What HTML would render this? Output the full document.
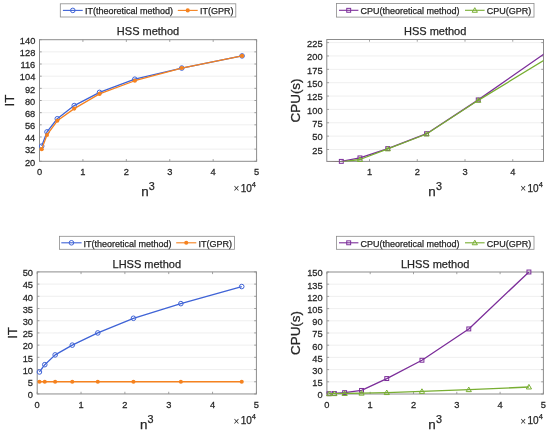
<!DOCTYPE html>
<html><head><meta charset="utf-8"><title>Figure</title>
<style>
html,body{margin:0;padding:0;background:#fff;width:550px;height:433px;overflow:hidden}
svg{display:block;filter:blur(0.3px)}
text{font-family:'Liberation Sans', Arial, Helvetica, sans-serif;fill:#262626;stroke:#262626;stroke-width:0.25px}
</style></head><body>
<svg width="550" height="433" viewBox="0 0 550 433">
<rect width="550" height="433" fill="#fff"/>
<defs>
<clipPath id="cTL"><rect x="39.5" y="39.7" width="217.1" height="121.6"/></clipPath>
<clipPath id="cTR"><rect x="326.8" y="39.5" width="216.7" height="121.9"/></clipPath>
<clipPath id="cBL"><rect x="37.2" y="271.9" width="219.2" height="122.05"/></clipPath>
<clipPath id="cBR"><rect x="326.9" y="272" width="216.5" height="122"/></clipPath>
</defs>
<line x1="39.5" y1="149.14" x2="256.6" y2="149.14" stroke="#ebebeb" stroke-width="0.8"/>
<line x1="39.5" y1="136.98" x2="256.6" y2="136.98" stroke="#ebebeb" stroke-width="0.8"/>
<line x1="39.5" y1="124.82" x2="256.6" y2="124.82" stroke="#ebebeb" stroke-width="0.8"/>
<line x1="39.5" y1="112.66" x2="256.6" y2="112.66" stroke="#ebebeb" stroke-width="0.8"/>
<line x1="39.5" y1="100.5" x2="256.6" y2="100.5" stroke="#ebebeb" stroke-width="0.8"/>
<line x1="39.5" y1="88.34" x2="256.6" y2="88.34" stroke="#ebebeb" stroke-width="0.8"/>
<line x1="39.5" y1="76.18" x2="256.6" y2="76.18" stroke="#ebebeb" stroke-width="0.8"/>
<line x1="39.5" y1="64.02" x2="256.6" y2="64.02" stroke="#ebebeb" stroke-width="0.8"/>
<line x1="39.5" y1="51.86" x2="256.6" y2="51.86" stroke="#ebebeb" stroke-width="0.8"/>
<line x1="39.5" y1="161.3" x2="39.5" y2="159.1" stroke="#8c8c8c" stroke-width="0.8"/>
<line x1="39.5" y1="39.7" x2="39.5" y2="41.9" stroke="#8c8c8c" stroke-width="0.8"/>
<line x1="82.92" y1="161.3" x2="82.92" y2="159.1" stroke="#8c8c8c" stroke-width="0.8"/>
<line x1="82.92" y1="39.7" x2="82.92" y2="41.9" stroke="#8c8c8c" stroke-width="0.8"/>
<line x1="126.34" y1="161.3" x2="126.34" y2="159.1" stroke="#8c8c8c" stroke-width="0.8"/>
<line x1="126.34" y1="39.7" x2="126.34" y2="41.9" stroke="#8c8c8c" stroke-width="0.8"/>
<line x1="169.76" y1="161.3" x2="169.76" y2="159.1" stroke="#8c8c8c" stroke-width="0.8"/>
<line x1="169.76" y1="39.7" x2="169.76" y2="41.9" stroke="#8c8c8c" stroke-width="0.8"/>
<line x1="213.18" y1="161.3" x2="213.18" y2="159.1" stroke="#8c8c8c" stroke-width="0.8"/>
<line x1="213.18" y1="39.7" x2="213.18" y2="41.9" stroke="#8c8c8c" stroke-width="0.8"/>
<line x1="256.6" y1="161.3" x2="256.6" y2="159.1" stroke="#8c8c8c" stroke-width="0.8"/>
<line x1="256.6" y1="39.7" x2="256.6" y2="41.9" stroke="#8c8c8c" stroke-width="0.8"/>
<line x1="39.5" y1="161.3" x2="41.7" y2="161.3" stroke="#8c8c8c" stroke-width="0.8"/>
<line x1="256.6" y1="161.3" x2="254.4" y2="161.3" stroke="#8c8c8c" stroke-width="0.8"/>
<line x1="39.5" y1="149.14" x2="41.7" y2="149.14" stroke="#8c8c8c" stroke-width="0.8"/>
<line x1="256.6" y1="149.14" x2="254.4" y2="149.14" stroke="#8c8c8c" stroke-width="0.8"/>
<line x1="39.5" y1="136.98" x2="41.7" y2="136.98" stroke="#8c8c8c" stroke-width="0.8"/>
<line x1="256.6" y1="136.98" x2="254.4" y2="136.98" stroke="#8c8c8c" stroke-width="0.8"/>
<line x1="39.5" y1="124.82" x2="41.7" y2="124.82" stroke="#8c8c8c" stroke-width="0.8"/>
<line x1="256.6" y1="124.82" x2="254.4" y2="124.82" stroke="#8c8c8c" stroke-width="0.8"/>
<line x1="39.5" y1="112.66" x2="41.7" y2="112.66" stroke="#8c8c8c" stroke-width="0.8"/>
<line x1="256.6" y1="112.66" x2="254.4" y2="112.66" stroke="#8c8c8c" stroke-width="0.8"/>
<line x1="39.5" y1="100.5" x2="41.7" y2="100.5" stroke="#8c8c8c" stroke-width="0.8"/>
<line x1="256.6" y1="100.5" x2="254.4" y2="100.5" stroke="#8c8c8c" stroke-width="0.8"/>
<line x1="39.5" y1="88.34" x2="41.7" y2="88.34" stroke="#8c8c8c" stroke-width="0.8"/>
<line x1="256.6" y1="88.34" x2="254.4" y2="88.34" stroke="#8c8c8c" stroke-width="0.8"/>
<line x1="39.5" y1="76.18" x2="41.7" y2="76.18" stroke="#8c8c8c" stroke-width="0.8"/>
<line x1="256.6" y1="76.18" x2="254.4" y2="76.18" stroke="#8c8c8c" stroke-width="0.8"/>
<line x1="39.5" y1="64.02" x2="41.7" y2="64.02" stroke="#8c8c8c" stroke-width="0.8"/>
<line x1="256.6" y1="64.02" x2="254.4" y2="64.02" stroke="#8c8c8c" stroke-width="0.8"/>
<line x1="39.5" y1="51.86" x2="41.7" y2="51.86" stroke="#8c8c8c" stroke-width="0.8"/>
<line x1="256.6" y1="51.86" x2="254.4" y2="51.86" stroke="#8c8c8c" stroke-width="0.8"/>
<line x1="39.5" y1="39.7" x2="41.7" y2="39.7" stroke="#8c8c8c" stroke-width="0.8"/>
<line x1="256.6" y1="39.7" x2="254.4" y2="39.7" stroke="#8c8c8c" stroke-width="0.8"/>
<rect x="39.5" y="39.7" width="217.1" height="121.6" fill="none" stroke="#8c8c8c" stroke-width="1"/>
<text transform="translate(39.5,175.3) scale(1,1.07)" font-size="9.3" text-anchor="middle">0</text>
<text transform="translate(82.92,175.3) scale(1,1.07)" font-size="9.3" text-anchor="middle">1</text>
<text transform="translate(126.34,175.3) scale(1,1.07)" font-size="9.3" text-anchor="middle">2</text>
<text transform="translate(169.76,175.3) scale(1,1.07)" font-size="9.3" text-anchor="middle">3</text>
<text transform="translate(213.18,175.3) scale(1,1.07)" font-size="9.3" text-anchor="middle">4</text>
<text transform="translate(256.6,175.3) scale(1,1.07)" font-size="9.3" text-anchor="middle">5</text>
<text transform="translate(35.3,165.6) scale(1,1.07)" font-size="9.3" text-anchor="end">20</text>
<text transform="translate(35.3,153.44) scale(1,1.07)" font-size="9.3" text-anchor="end">32</text>
<text transform="translate(35.3,141.28) scale(1,1.07)" font-size="9.3" text-anchor="end">44</text>
<text transform="translate(35.3,129.12) scale(1,1.07)" font-size="9.3" text-anchor="end">56</text>
<text transform="translate(35.3,116.96) scale(1,1.07)" font-size="9.3" text-anchor="end">68</text>
<text transform="translate(35.3,104.8) scale(1,1.07)" font-size="9.3" text-anchor="end">80</text>
<text transform="translate(35.3,92.64) scale(1,1.07)" font-size="9.3" text-anchor="end">92</text>
<text transform="translate(35.3,80.48) scale(1,1.07)" font-size="9.3" text-anchor="end">104</text>
<text transform="translate(35.3,68.32) scale(1,1.07)" font-size="9.3" text-anchor="end">116</text>
<text transform="translate(35.3,56.16) scale(1,1.07)" font-size="9.3" text-anchor="end">128</text>
<text transform="translate(35.3,44) scale(1,1.07)" font-size="9.3" text-anchor="end">140</text>
<text x="256" y="191.5" font-size="10" text-anchor="end"><tspan dy="0.9" stroke-width="0">×</tspan><tspan dx="1.3" dy="-0.9">10</tspan><tspan font-size="7.5" dy="-5">4</tspan></text>
<text x="148.05" y="35" font-size="11" text-anchor="middle">HSS method</text>
<text x="148.05" y="195.6" font-size="13.4" text-anchor="middle">n<tspan font-size="10.8" dx="0.1" dy="-6.0">3</tspan></text>
<text transform="translate(13.8,100.5) rotate(-90)" font-size="13.4" text-anchor="middle">IT</text>
<g clip-path="url(#cTL)">
<polyline points="41.72,146.1 47,131.91 57.28,118.74 74.24,105.57 99.52,92.39 134.82,79.22 181.78,68.07 242.08,55.91" fill="none" stroke="#3f63d6" stroke-width="1.3" stroke-linejoin="round"/>
</g>
<circle cx="41.72" cy="146.1" r="2.3" fill="none" stroke="#3f63d6" stroke-width="1"/>
<circle cx="47" cy="131.91" r="2.3" fill="none" stroke="#3f63d6" stroke-width="1"/>
<circle cx="57.28" cy="118.74" r="2.3" fill="none" stroke="#3f63d6" stroke-width="1"/>
<circle cx="74.24" cy="105.57" r="2.3" fill="none" stroke="#3f63d6" stroke-width="1"/>
<circle cx="99.52" cy="92.39" r="2.3" fill="none" stroke="#3f63d6" stroke-width="1"/>
<circle cx="134.82" cy="79.22" r="2.3" fill="none" stroke="#3f63d6" stroke-width="1"/>
<circle cx="181.78" cy="68.07" r="2.3" fill="none" stroke="#3f63d6" stroke-width="1"/>
<circle cx="242.08" cy="55.91" r="2.3" fill="none" stroke="#3f63d6" stroke-width="1"/>
<g clip-path="url(#cTL)">
<polyline points="41.72,149.14 47,134.95 57.28,120.77 74.24,108.61 99.52,93.91 134.82,80.74 181.78,68.07 242.08,55.91" fill="none" stroke="#f5821f" stroke-width="1.3" stroke-linejoin="round"/>
</g>
<circle cx="41.72" cy="149.14" r="2.05" fill="#f5821f"/>
<circle cx="47" cy="134.95" r="2.05" fill="#f5821f"/>
<circle cx="57.28" cy="120.77" r="2.05" fill="#f5821f"/>
<circle cx="74.24" cy="108.61" r="2.05" fill="#f5821f"/>
<circle cx="99.52" cy="93.91" r="2.05" fill="#f5821f"/>
<circle cx="134.82" cy="80.74" r="2.05" fill="#f5821f"/>
<circle cx="181.78" cy="68.07" r="2.05" fill="#f5821f"/>
<circle cx="242.08" cy="55.91" r="2.05" fill="#f5821f"/>
<rect x="60.3" y="3.8" width="175.5" height="13.2" fill="#fff" stroke="#8c8c8c" stroke-width="0.8"/>
<line x1="62.9" y1="10.4" x2="82.7" y2="10.4" stroke="#3f63d6" stroke-width="1.1"/>
<circle cx="72.8" cy="10.4" r="2.3" fill="none" stroke="#3f63d6" stroke-width="1"/>
<text x="84.9" y="13.6" font-size="9">IT(theoretical method)</text>
<line x1="177.8" y1="10.4" x2="197.7" y2="10.4" stroke="#f5821f" stroke-width="1.1"/>
<circle cx="187.75" cy="10.4" r="2.05" fill="#f5821f"/>
<text x="199.9" y="13.6" font-size="9">IT(GPR)</text>
<line x1="326.8" y1="149.5" x2="543.5" y2="149.5" stroke="#ebebeb" stroke-width="0.8"/>
<line x1="326.8" y1="136.14" x2="543.5" y2="136.14" stroke="#ebebeb" stroke-width="0.8"/>
<line x1="326.8" y1="122.78" x2="543.5" y2="122.78" stroke="#ebebeb" stroke-width="0.8"/>
<line x1="326.8" y1="109.41" x2="543.5" y2="109.41" stroke="#ebebeb" stroke-width="0.8"/>
<line x1="326.8" y1="96.05" x2="543.5" y2="96.05" stroke="#ebebeb" stroke-width="0.8"/>
<line x1="326.8" y1="82.69" x2="543.5" y2="82.69" stroke="#ebebeb" stroke-width="0.8"/>
<line x1="326.8" y1="69.33" x2="543.5" y2="69.33" stroke="#ebebeb" stroke-width="0.8"/>
<line x1="326.8" y1="55.96" x2="543.5" y2="55.96" stroke="#ebebeb" stroke-width="0.8"/>
<line x1="326.8" y1="42.6" x2="543.5" y2="42.6" stroke="#ebebeb" stroke-width="0.8"/>
<line x1="369.5" y1="161.4" x2="369.5" y2="159.2" stroke="#8c8c8c" stroke-width="0.8"/>
<line x1="369.5" y1="39.5" x2="369.5" y2="41.7" stroke="#8c8c8c" stroke-width="0.8"/>
<line x1="417.25" y1="161.4" x2="417.25" y2="159.2" stroke="#8c8c8c" stroke-width="0.8"/>
<line x1="417.25" y1="39.5" x2="417.25" y2="41.7" stroke="#8c8c8c" stroke-width="0.8"/>
<line x1="465" y1="161.4" x2="465" y2="159.2" stroke="#8c8c8c" stroke-width="0.8"/>
<line x1="465" y1="39.5" x2="465" y2="41.7" stroke="#8c8c8c" stroke-width="0.8"/>
<line x1="512.75" y1="161.4" x2="512.75" y2="159.2" stroke="#8c8c8c" stroke-width="0.8"/>
<line x1="512.75" y1="39.5" x2="512.75" y2="41.7" stroke="#8c8c8c" stroke-width="0.8"/>
<line x1="326.8" y1="149.5" x2="329" y2="149.5" stroke="#8c8c8c" stroke-width="0.8"/>
<line x1="543.5" y1="149.5" x2="541.3" y2="149.5" stroke="#8c8c8c" stroke-width="0.8"/>
<line x1="326.8" y1="136.14" x2="329" y2="136.14" stroke="#8c8c8c" stroke-width="0.8"/>
<line x1="543.5" y1="136.14" x2="541.3" y2="136.14" stroke="#8c8c8c" stroke-width="0.8"/>
<line x1="326.8" y1="122.78" x2="329" y2="122.78" stroke="#8c8c8c" stroke-width="0.8"/>
<line x1="543.5" y1="122.78" x2="541.3" y2="122.78" stroke="#8c8c8c" stroke-width="0.8"/>
<line x1="326.8" y1="109.41" x2="329" y2="109.41" stroke="#8c8c8c" stroke-width="0.8"/>
<line x1="543.5" y1="109.41" x2="541.3" y2="109.41" stroke="#8c8c8c" stroke-width="0.8"/>
<line x1="326.8" y1="96.05" x2="329" y2="96.05" stroke="#8c8c8c" stroke-width="0.8"/>
<line x1="543.5" y1="96.05" x2="541.3" y2="96.05" stroke="#8c8c8c" stroke-width="0.8"/>
<line x1="326.8" y1="82.69" x2="329" y2="82.69" stroke="#8c8c8c" stroke-width="0.8"/>
<line x1="543.5" y1="82.69" x2="541.3" y2="82.69" stroke="#8c8c8c" stroke-width="0.8"/>
<line x1="326.8" y1="69.33" x2="329" y2="69.33" stroke="#8c8c8c" stroke-width="0.8"/>
<line x1="543.5" y1="69.33" x2="541.3" y2="69.33" stroke="#8c8c8c" stroke-width="0.8"/>
<line x1="326.8" y1="55.96" x2="329" y2="55.96" stroke="#8c8c8c" stroke-width="0.8"/>
<line x1="543.5" y1="55.96" x2="541.3" y2="55.96" stroke="#8c8c8c" stroke-width="0.8"/>
<line x1="326.8" y1="42.6" x2="329" y2="42.6" stroke="#8c8c8c" stroke-width="0.8"/>
<line x1="543.5" y1="42.6" x2="541.3" y2="42.6" stroke="#8c8c8c" stroke-width="0.8"/>
<rect x="326.8" y="39.5" width="216.7" height="121.9" fill="none" stroke="#8c8c8c" stroke-width="1"/>
<text transform="translate(369.5,175.4) scale(1,1.07)" font-size="9.3" text-anchor="middle">1</text>
<text transform="translate(417.25,175.4) scale(1,1.07)" font-size="9.3" text-anchor="middle">2</text>
<text transform="translate(465,175.4) scale(1,1.07)" font-size="9.3" text-anchor="middle">3</text>
<text transform="translate(512.75,175.4) scale(1,1.07)" font-size="9.3" text-anchor="middle">4</text>
<text transform="translate(322.6,153.8) scale(1,1.07)" font-size="9.3" text-anchor="end">25</text>
<text transform="translate(322.6,140.44) scale(1,1.07)" font-size="9.3" text-anchor="end">50</text>
<text transform="translate(322.6,127.08) scale(1,1.07)" font-size="9.3" text-anchor="end">75</text>
<text transform="translate(322.6,113.71) scale(1,1.07)" font-size="9.3" text-anchor="end">100</text>
<text transform="translate(322.6,100.35) scale(1,1.07)" font-size="9.3" text-anchor="end">125</text>
<text transform="translate(322.6,86.99) scale(1,1.07)" font-size="9.3" text-anchor="end">150</text>
<text transform="translate(322.6,73.62) scale(1,1.07)" font-size="9.3" text-anchor="end">175</text>
<text transform="translate(322.6,60.26) scale(1,1.07)" font-size="9.3" text-anchor="end">200</text>
<text transform="translate(322.6,46.9) scale(1,1.07)" font-size="9.3" text-anchor="end">225</text>
<text x="542.8" y="191.5" font-size="10" text-anchor="end"><tspan dy="0.9" stroke-width="0">×</tspan><tspan dx="1.3" dy="-0.9">10</tspan><tspan font-size="7.5" dy="-5">4</tspan></text>
<text x="435.15" y="35" font-size="11" text-anchor="middle">HSS method</text>
<text x="435.15" y="195.6" font-size="13.4" text-anchor="middle">n<tspan font-size="10.8" dx="0.1" dy="-6.0">3</tspan></text>
<text transform="translate(300.3,100.45) rotate(-90)" font-size="13.4" text-anchor="middle">CPU(s)</text>
<g clip-path="url(#cTR)">
<polyline points="324.19,162.6 330,162.33 341.31,161.37 359.95,157.89 387.76,148.59 426.57,133.68 478.22,99.9 544.53,53.66" fill="none" stroke="#7c2e9a" stroke-width="1.3" stroke-linejoin="round"/>
</g>
<rect x="339.36" y="159.42" width="3.9" height="3.9" fill="none" stroke="#7c2e9a" stroke-width="1"/>
<rect x="358" y="155.94" width="3.9" height="3.9" fill="none" stroke="#7c2e9a" stroke-width="1"/>
<rect x="385.81" y="146.64" width="3.9" height="3.9" fill="none" stroke="#7c2e9a" stroke-width="1"/>
<rect x="424.62" y="131.73" width="3.9" height="3.9" fill="none" stroke="#7c2e9a" stroke-width="1"/>
<rect x="476.27" y="97.95" width="3.9" height="3.9" fill="none" stroke="#7c2e9a" stroke-width="1"/>
<g clip-path="url(#cTR)">
<polyline points="324.19,162.65 330,162.43 341.31,161.79 359.95,159.5 387.76,148.86 426.57,134 478.22,100.33 544.53,60.02" fill="none" stroke="#78ae32" stroke-width="1.3" stroke-linejoin="round"/>
</g>
<polygon points="359.95,156.9 362.55,161.45 357.35,161.45" fill="none" stroke="#78ae32" stroke-width="1"/>
<polygon points="387.76,146.26 390.36,150.81 385.16,150.81" fill="none" stroke="#78ae32" stroke-width="1"/>
<polygon points="426.57,131.4 429.17,135.95 423.97,135.95" fill="none" stroke="#78ae32" stroke-width="1"/>
<polygon points="478.22,97.73 480.82,102.28 475.62,102.28" fill="none" stroke="#78ae32" stroke-width="1"/>
<rect x="336.5" y="3.5" width="197.5" height="13.6" fill="#fff" stroke="#8c8c8c" stroke-width="0.8"/>
<line x1="339" y1="10.3" x2="358.4" y2="10.3" stroke="#7c2e9a" stroke-width="1.1"/>
<rect x="346.75" y="8.35" width="3.9" height="3.9" fill="none" stroke="#7c2e9a" stroke-width="1"/>
<text x="360.5" y="13.5" font-size="9">CPU(theoretical method)</text>
<line x1="465" y1="10.3" x2="484.6" y2="10.3" stroke="#78ae32" stroke-width="1.1"/>
<polygon points="474.8,7.7 477.4,12.25 472.2,12.25" fill="none" stroke="#78ae32" stroke-width="1"/>
<text x="486.7" y="13.5" font-size="9">CPU(GPR)</text>
<line x1="37.2" y1="381.75" x2="256.4" y2="381.75" stroke="#ebebeb" stroke-width="0.8"/>
<line x1="37.2" y1="369.54" x2="256.4" y2="369.54" stroke="#ebebeb" stroke-width="0.8"/>
<line x1="37.2" y1="357.33" x2="256.4" y2="357.33" stroke="#ebebeb" stroke-width="0.8"/>
<line x1="37.2" y1="345.13" x2="256.4" y2="345.13" stroke="#ebebeb" stroke-width="0.8"/>
<line x1="37.2" y1="332.92" x2="256.4" y2="332.92" stroke="#ebebeb" stroke-width="0.8"/>
<line x1="37.2" y1="320.72" x2="256.4" y2="320.72" stroke="#ebebeb" stroke-width="0.8"/>
<line x1="37.2" y1="308.51" x2="256.4" y2="308.51" stroke="#ebebeb" stroke-width="0.8"/>
<line x1="37.2" y1="296.31" x2="256.4" y2="296.31" stroke="#ebebeb" stroke-width="0.8"/>
<line x1="37.2" y1="284.1" x2="256.4" y2="284.1" stroke="#ebebeb" stroke-width="0.8"/>
<line x1="37.2" y1="393.95" x2="37.2" y2="391.75" stroke="#8c8c8c" stroke-width="0.8"/>
<line x1="37.2" y1="271.9" x2="37.2" y2="274.1" stroke="#8c8c8c" stroke-width="0.8"/>
<line x1="81.04" y1="393.95" x2="81.04" y2="391.75" stroke="#8c8c8c" stroke-width="0.8"/>
<line x1="81.04" y1="271.9" x2="81.04" y2="274.1" stroke="#8c8c8c" stroke-width="0.8"/>
<line x1="124.88" y1="393.95" x2="124.88" y2="391.75" stroke="#8c8c8c" stroke-width="0.8"/>
<line x1="124.88" y1="271.9" x2="124.88" y2="274.1" stroke="#8c8c8c" stroke-width="0.8"/>
<line x1="168.72" y1="393.95" x2="168.72" y2="391.75" stroke="#8c8c8c" stroke-width="0.8"/>
<line x1="168.72" y1="271.9" x2="168.72" y2="274.1" stroke="#8c8c8c" stroke-width="0.8"/>
<line x1="212.56" y1="393.95" x2="212.56" y2="391.75" stroke="#8c8c8c" stroke-width="0.8"/>
<line x1="212.56" y1="271.9" x2="212.56" y2="274.1" stroke="#8c8c8c" stroke-width="0.8"/>
<line x1="256.4" y1="393.95" x2="256.4" y2="391.75" stroke="#8c8c8c" stroke-width="0.8"/>
<line x1="256.4" y1="271.9" x2="256.4" y2="274.1" stroke="#8c8c8c" stroke-width="0.8"/>
<line x1="37.2" y1="393.95" x2="39.4" y2="393.95" stroke="#8c8c8c" stroke-width="0.8"/>
<line x1="256.4" y1="393.95" x2="254.2" y2="393.95" stroke="#8c8c8c" stroke-width="0.8"/>
<line x1="37.2" y1="381.75" x2="39.4" y2="381.75" stroke="#8c8c8c" stroke-width="0.8"/>
<line x1="256.4" y1="381.75" x2="254.2" y2="381.75" stroke="#8c8c8c" stroke-width="0.8"/>
<line x1="37.2" y1="369.54" x2="39.4" y2="369.54" stroke="#8c8c8c" stroke-width="0.8"/>
<line x1="256.4" y1="369.54" x2="254.2" y2="369.54" stroke="#8c8c8c" stroke-width="0.8"/>
<line x1="37.2" y1="357.33" x2="39.4" y2="357.33" stroke="#8c8c8c" stroke-width="0.8"/>
<line x1="256.4" y1="357.33" x2="254.2" y2="357.33" stroke="#8c8c8c" stroke-width="0.8"/>
<line x1="37.2" y1="345.13" x2="39.4" y2="345.13" stroke="#8c8c8c" stroke-width="0.8"/>
<line x1="256.4" y1="345.13" x2="254.2" y2="345.13" stroke="#8c8c8c" stroke-width="0.8"/>
<line x1="37.2" y1="332.92" x2="39.4" y2="332.92" stroke="#8c8c8c" stroke-width="0.8"/>
<line x1="256.4" y1="332.92" x2="254.2" y2="332.92" stroke="#8c8c8c" stroke-width="0.8"/>
<line x1="37.2" y1="320.72" x2="39.4" y2="320.72" stroke="#8c8c8c" stroke-width="0.8"/>
<line x1="256.4" y1="320.72" x2="254.2" y2="320.72" stroke="#8c8c8c" stroke-width="0.8"/>
<line x1="37.2" y1="308.51" x2="39.4" y2="308.51" stroke="#8c8c8c" stroke-width="0.8"/>
<line x1="256.4" y1="308.51" x2="254.2" y2="308.51" stroke="#8c8c8c" stroke-width="0.8"/>
<line x1="37.2" y1="296.31" x2="39.4" y2="296.31" stroke="#8c8c8c" stroke-width="0.8"/>
<line x1="256.4" y1="296.31" x2="254.2" y2="296.31" stroke="#8c8c8c" stroke-width="0.8"/>
<line x1="37.2" y1="284.1" x2="39.4" y2="284.1" stroke="#8c8c8c" stroke-width="0.8"/>
<line x1="256.4" y1="284.1" x2="254.2" y2="284.1" stroke="#8c8c8c" stroke-width="0.8"/>
<line x1="37.2" y1="271.9" x2="39.4" y2="271.9" stroke="#8c8c8c" stroke-width="0.8"/>
<line x1="256.4" y1="271.9" x2="254.2" y2="271.9" stroke="#8c8c8c" stroke-width="0.8"/>
<rect x="37.2" y="271.9" width="219.2" height="122.05" fill="none" stroke="#8c8c8c" stroke-width="1"/>
<text transform="translate(37.2,407.95) scale(1,1.07)" font-size="9.3" text-anchor="middle">0</text>
<text transform="translate(81.04,407.95) scale(1,1.07)" font-size="9.3" text-anchor="middle">1</text>
<text transform="translate(124.88,407.95) scale(1,1.07)" font-size="9.3" text-anchor="middle">2</text>
<text transform="translate(168.72,407.95) scale(1,1.07)" font-size="9.3" text-anchor="middle">3</text>
<text transform="translate(212.56,407.95) scale(1,1.07)" font-size="9.3" text-anchor="middle">4</text>
<text transform="translate(256.4,407.95) scale(1,1.07)" font-size="9.3" text-anchor="middle">5</text>
<text transform="translate(33,398.25) scale(1,1.07)" font-size="9.3" text-anchor="end">0</text>
<text transform="translate(33,386.05) scale(1,1.07)" font-size="9.3" text-anchor="end">5</text>
<text transform="translate(33,373.84) scale(1,1.07)" font-size="9.3" text-anchor="end">10</text>
<text transform="translate(33,361.63) scale(1,1.07)" font-size="9.3" text-anchor="end">15</text>
<text transform="translate(33,349.43) scale(1,1.07)" font-size="9.3" text-anchor="end">20</text>
<text transform="translate(33,337.22) scale(1,1.07)" font-size="9.3" text-anchor="end">25</text>
<text transform="translate(33,325.02) scale(1,1.07)" font-size="9.3" text-anchor="end">30</text>
<text transform="translate(33,312.81) scale(1,1.07)" font-size="9.3" text-anchor="end">35</text>
<text transform="translate(33,300.61) scale(1,1.07)" font-size="9.3" text-anchor="end">40</text>
<text transform="translate(33,288.4) scale(1,1.07)" font-size="9.3" text-anchor="end">45</text>
<text transform="translate(33,276.2) scale(1,1.07)" font-size="9.3" text-anchor="end">50</text>
<text x="256" y="424.3" font-size="10" text-anchor="end"><tspan dy="0.9" stroke-width="0">×</tspan><tspan dx="1.3" dy="-0.9">10</tspan><tspan font-size="7.5" dy="-5">4</tspan></text>
<text x="146.8" y="267.6" font-size="11" text-anchor="middle">LHSS method</text>
<text x="146.8" y="428.5" font-size="13.4" text-anchor="middle">n<tspan font-size="10.8" dx="0.1" dy="-6.0">3</tspan></text>
<text transform="translate(16.8,332.92) rotate(-90)" font-size="13.4" text-anchor="middle">IT</text>
<g clip-path="url(#cBL)">
<polyline points="39.44,371.98 44.78,364.66 55.16,354.89 72.27,345.13 97.8,332.92 133.44,318.28 180.85,303.63 241.74,286.55" fill="none" stroke="#3f63d6" stroke-width="1.3" stroke-linejoin="round"/>
</g>
<circle cx="39.44" cy="371.98" r="2.3" fill="none" stroke="#3f63d6" stroke-width="1"/>
<circle cx="44.78" cy="364.66" r="2.3" fill="none" stroke="#3f63d6" stroke-width="1"/>
<circle cx="55.16" cy="354.89" r="2.3" fill="none" stroke="#3f63d6" stroke-width="1"/>
<circle cx="72.27" cy="345.13" r="2.3" fill="none" stroke="#3f63d6" stroke-width="1"/>
<circle cx="97.8" cy="332.92" r="2.3" fill="none" stroke="#3f63d6" stroke-width="1"/>
<circle cx="133.44" cy="318.28" r="2.3" fill="none" stroke="#3f63d6" stroke-width="1"/>
<circle cx="180.85" cy="303.63" r="2.3" fill="none" stroke="#3f63d6" stroke-width="1"/>
<circle cx="241.74" cy="286.55" r="2.3" fill="none" stroke="#3f63d6" stroke-width="1"/>
<g clip-path="url(#cBL)">
<polyline points="39.44,381.75 44.78,381.75 55.16,381.75 72.27,381.75 97.8,381.75 133.44,381.75 180.85,381.75 241.74,381.75" fill="none" stroke="#f5821f" stroke-width="1.3" stroke-linejoin="round"/>
</g>
<circle cx="39.44" cy="381.75" r="2.05" fill="#f5821f"/>
<circle cx="44.78" cy="381.75" r="2.05" fill="#f5821f"/>
<circle cx="55.16" cy="381.75" r="2.05" fill="#f5821f"/>
<circle cx="72.27" cy="381.75" r="2.05" fill="#f5821f"/>
<circle cx="97.8" cy="381.75" r="2.05" fill="#f5821f"/>
<circle cx="133.44" cy="381.75" r="2.05" fill="#f5821f"/>
<circle cx="180.85" cy="381.75" r="2.05" fill="#f5821f"/>
<circle cx="241.74" cy="381.75" r="2.05" fill="#f5821f"/>
<rect x="59.4" y="236.3" width="175.1" height="13" fill="#fff" stroke="#8c8c8c" stroke-width="0.8"/>
<line x1="61.3" y1="242.8" x2="81.6" y2="242.8" stroke="#3f63d6" stroke-width="1.1"/>
<circle cx="71.45" cy="242.8" r="2.3" fill="none" stroke="#3f63d6" stroke-width="1"/>
<text x="83.4" y="246.5" font-size="9">IT(theoretical method)</text>
<line x1="176.2" y1="242.8" x2="196.3" y2="242.8" stroke="#f5821f" stroke-width="1.1"/>
<circle cx="186.25" cy="242.8" r="2.05" fill="#f5821f"/>
<text x="198.5" y="246.5" font-size="9">IT(GPR)</text>
<line x1="326.9" y1="381.8" x2="543.4" y2="381.8" stroke="#ebebeb" stroke-width="0.8"/>
<line x1="326.9" y1="369.6" x2="543.4" y2="369.6" stroke="#ebebeb" stroke-width="0.8"/>
<line x1="326.9" y1="357.4" x2="543.4" y2="357.4" stroke="#ebebeb" stroke-width="0.8"/>
<line x1="326.9" y1="345.2" x2="543.4" y2="345.2" stroke="#ebebeb" stroke-width="0.8"/>
<line x1="326.9" y1="333" x2="543.4" y2="333" stroke="#ebebeb" stroke-width="0.8"/>
<line x1="326.9" y1="320.8" x2="543.4" y2="320.8" stroke="#ebebeb" stroke-width="0.8"/>
<line x1="326.9" y1="308.6" x2="543.4" y2="308.6" stroke="#ebebeb" stroke-width="0.8"/>
<line x1="326.9" y1="296.4" x2="543.4" y2="296.4" stroke="#ebebeb" stroke-width="0.8"/>
<line x1="326.9" y1="284.2" x2="543.4" y2="284.2" stroke="#ebebeb" stroke-width="0.8"/>
<line x1="326.9" y1="394" x2="326.9" y2="391.8" stroke="#8c8c8c" stroke-width="0.8"/>
<line x1="326.9" y1="272" x2="326.9" y2="274.2" stroke="#8c8c8c" stroke-width="0.8"/>
<line x1="370.2" y1="394" x2="370.2" y2="391.8" stroke="#8c8c8c" stroke-width="0.8"/>
<line x1="370.2" y1="272" x2="370.2" y2="274.2" stroke="#8c8c8c" stroke-width="0.8"/>
<line x1="413.5" y1="394" x2="413.5" y2="391.8" stroke="#8c8c8c" stroke-width="0.8"/>
<line x1="413.5" y1="272" x2="413.5" y2="274.2" stroke="#8c8c8c" stroke-width="0.8"/>
<line x1="456.8" y1="394" x2="456.8" y2="391.8" stroke="#8c8c8c" stroke-width="0.8"/>
<line x1="456.8" y1="272" x2="456.8" y2="274.2" stroke="#8c8c8c" stroke-width="0.8"/>
<line x1="500.1" y1="394" x2="500.1" y2="391.8" stroke="#8c8c8c" stroke-width="0.8"/>
<line x1="500.1" y1="272" x2="500.1" y2="274.2" stroke="#8c8c8c" stroke-width="0.8"/>
<line x1="543.4" y1="394" x2="543.4" y2="391.8" stroke="#8c8c8c" stroke-width="0.8"/>
<line x1="543.4" y1="272" x2="543.4" y2="274.2" stroke="#8c8c8c" stroke-width="0.8"/>
<line x1="326.9" y1="394" x2="329.1" y2="394" stroke="#8c8c8c" stroke-width="0.8"/>
<line x1="543.4" y1="394" x2="541.2" y2="394" stroke="#8c8c8c" stroke-width="0.8"/>
<line x1="326.9" y1="381.8" x2="329.1" y2="381.8" stroke="#8c8c8c" stroke-width="0.8"/>
<line x1="543.4" y1="381.8" x2="541.2" y2="381.8" stroke="#8c8c8c" stroke-width="0.8"/>
<line x1="326.9" y1="369.6" x2="329.1" y2="369.6" stroke="#8c8c8c" stroke-width="0.8"/>
<line x1="543.4" y1="369.6" x2="541.2" y2="369.6" stroke="#8c8c8c" stroke-width="0.8"/>
<line x1="326.9" y1="357.4" x2="329.1" y2="357.4" stroke="#8c8c8c" stroke-width="0.8"/>
<line x1="543.4" y1="357.4" x2="541.2" y2="357.4" stroke="#8c8c8c" stroke-width="0.8"/>
<line x1="326.9" y1="345.2" x2="329.1" y2="345.2" stroke="#8c8c8c" stroke-width="0.8"/>
<line x1="543.4" y1="345.2" x2="541.2" y2="345.2" stroke="#8c8c8c" stroke-width="0.8"/>
<line x1="326.9" y1="333" x2="329.1" y2="333" stroke="#8c8c8c" stroke-width="0.8"/>
<line x1="543.4" y1="333" x2="541.2" y2="333" stroke="#8c8c8c" stroke-width="0.8"/>
<line x1="326.9" y1="320.8" x2="329.1" y2="320.8" stroke="#8c8c8c" stroke-width="0.8"/>
<line x1="543.4" y1="320.8" x2="541.2" y2="320.8" stroke="#8c8c8c" stroke-width="0.8"/>
<line x1="326.9" y1="308.6" x2="329.1" y2="308.6" stroke="#8c8c8c" stroke-width="0.8"/>
<line x1="543.4" y1="308.6" x2="541.2" y2="308.6" stroke="#8c8c8c" stroke-width="0.8"/>
<line x1="326.9" y1="296.4" x2="329.1" y2="296.4" stroke="#8c8c8c" stroke-width="0.8"/>
<line x1="543.4" y1="296.4" x2="541.2" y2="296.4" stroke="#8c8c8c" stroke-width="0.8"/>
<line x1="326.9" y1="284.2" x2="329.1" y2="284.2" stroke="#8c8c8c" stroke-width="0.8"/>
<line x1="543.4" y1="284.2" x2="541.2" y2="284.2" stroke="#8c8c8c" stroke-width="0.8"/>
<line x1="326.9" y1="272" x2="329.1" y2="272" stroke="#8c8c8c" stroke-width="0.8"/>
<line x1="543.4" y1="272" x2="541.2" y2="272" stroke="#8c8c8c" stroke-width="0.8"/>
<rect x="326.9" y="272" width="216.5" height="122" fill="none" stroke="#8c8c8c" stroke-width="1"/>
<text transform="translate(326.9,408) scale(1,1.07)" font-size="9.3" text-anchor="middle">0</text>
<text transform="translate(370.2,408) scale(1,1.07)" font-size="9.3" text-anchor="middle">1</text>
<text transform="translate(413.5,408) scale(1,1.07)" font-size="9.3" text-anchor="middle">2</text>
<text transform="translate(456.8,408) scale(1,1.07)" font-size="9.3" text-anchor="middle">3</text>
<text transform="translate(500.1,408) scale(1,1.07)" font-size="9.3" text-anchor="middle">4</text>
<text transform="translate(543.4,408) scale(1,1.07)" font-size="9.3" text-anchor="middle">5</text>
<text transform="translate(322.7,398.3) scale(1,1.07)" font-size="9.3" text-anchor="end">0</text>
<text transform="translate(322.7,386.1) scale(1,1.07)" font-size="9.3" text-anchor="end">15</text>
<text transform="translate(322.7,373.9) scale(1,1.07)" font-size="9.3" text-anchor="end">30</text>
<text transform="translate(322.7,361.7) scale(1,1.07)" font-size="9.3" text-anchor="end">45</text>
<text transform="translate(322.7,349.5) scale(1,1.07)" font-size="9.3" text-anchor="end">60</text>
<text transform="translate(322.7,337.3) scale(1,1.07)" font-size="9.3" text-anchor="end">75</text>
<text transform="translate(322.7,325.1) scale(1,1.07)" font-size="9.3" text-anchor="end">90</text>
<text transform="translate(322.7,312.9) scale(1,1.07)" font-size="9.3" text-anchor="end">105</text>
<text transform="translate(322.7,300.7) scale(1,1.07)" font-size="9.3" text-anchor="end">120</text>
<text transform="translate(322.7,288.5) scale(1,1.07)" font-size="9.3" text-anchor="end">135</text>
<text transform="translate(322.7,276.3) scale(1,1.07)" font-size="9.3" text-anchor="end">150</text>
<text x="542.8" y="424.3" font-size="10" text-anchor="end"><tspan dy="0.9" stroke-width="0">×</tspan><tspan dx="1.3" dy="-0.9">10</tspan><tspan font-size="7.5" dy="-5">4</tspan></text>
<text x="435.15" y="267.6" font-size="11" text-anchor="middle">LHSS method</text>
<text x="435.15" y="428.5" font-size="13.4" text-anchor="middle">n<tspan font-size="10.8" dx="0.1" dy="-6.0">3</tspan></text>
<text transform="translate(300.3,333) rotate(-90)" font-size="13.4" text-anchor="middle">CPU(s)</text>
<g clip-path="url(#cBR)">
<polyline points="329.12,393.67 334.38,393.51 344.64,392.62 361.54,390.42 386.76,378.55 421.95,360.25 468.79,328.93 528.92,272" fill="none" stroke="#7c2e9a" stroke-width="1.3" stroke-linejoin="round"/>
</g>
<rect x="327.17" y="391.72" width="3.9" height="3.9" fill="none" stroke="#7c2e9a" stroke-width="1"/>
<rect x="332.43" y="391.56" width="3.9" height="3.9" fill="none" stroke="#7c2e9a" stroke-width="1"/>
<rect x="342.69" y="390.67" width="3.9" height="3.9" fill="none" stroke="#7c2e9a" stroke-width="1"/>
<rect x="359.59" y="388.47" width="3.9" height="3.9" fill="none" stroke="#7c2e9a" stroke-width="1"/>
<rect x="384.81" y="376.6" width="3.9" height="3.9" fill="none" stroke="#7c2e9a" stroke-width="1"/>
<rect x="420" y="358.3" width="3.9" height="3.9" fill="none" stroke="#7c2e9a" stroke-width="1"/>
<rect x="466.84" y="326.98" width="3.9" height="3.9" fill="none" stroke="#7c2e9a" stroke-width="1"/>
<rect x="526.97" y="270.05" width="3.9" height="3.9" fill="none" stroke="#7c2e9a" stroke-width="1"/>
<g clip-path="url(#cBR)">
<polyline points="329.12,393.76 334.38,393.67 344.64,393.51 361.54,393.19 386.76,392.62 421.95,391.4 468.79,389.69 528.92,387.01" fill="none" stroke="#78ae32" stroke-width="1.3" stroke-linejoin="round"/>
</g>
<polygon points="329.12,391.16 331.72,395.71 326.52,395.71" fill="none" stroke="#78ae32" stroke-width="1"/>
<polygon points="334.38,391.07 336.98,395.62 331.78,395.62" fill="none" stroke="#78ae32" stroke-width="1"/>
<polygon points="344.64,390.91 347.24,395.46 342.04,395.46" fill="none" stroke="#78ae32" stroke-width="1"/>
<polygon points="361.54,390.59 364.14,395.14 358.94,395.14" fill="none" stroke="#78ae32" stroke-width="1"/>
<polygon points="386.76,390.02 389.36,394.57 384.16,394.57" fill="none" stroke="#78ae32" stroke-width="1"/>
<polygon points="421.95,388.8 424.55,393.35 419.35,393.35" fill="none" stroke="#78ae32" stroke-width="1"/>
<polygon points="468.79,387.09 471.39,391.64 466.19,391.64" fill="none" stroke="#78ae32" stroke-width="1"/>
<polygon points="528.92,384.41 531.52,388.96 526.32,388.96" fill="none" stroke="#78ae32" stroke-width="1"/>
<rect x="336.5" y="236.3" width="197.5" height="13" fill="#fff" stroke="#8c8c8c" stroke-width="0.8"/>
<line x1="339" y1="242.8" x2="358.4" y2="242.8" stroke="#7c2e9a" stroke-width="1.1"/>
<rect x="346.75" y="240.85" width="3.9" height="3.9" fill="none" stroke="#7c2e9a" stroke-width="1"/>
<text x="360.5" y="246.5" font-size="9">CPU(theoretical method)</text>
<line x1="465" y1="242.8" x2="484.6" y2="242.8" stroke="#78ae32" stroke-width="1.1"/>
<polygon points="474.8,240.2 477.4,244.75 472.2,244.75" fill="none" stroke="#78ae32" stroke-width="1"/>
<text x="486.7" y="246.5" font-size="9">CPU(GPR)</text>
</svg>
</body></html>
